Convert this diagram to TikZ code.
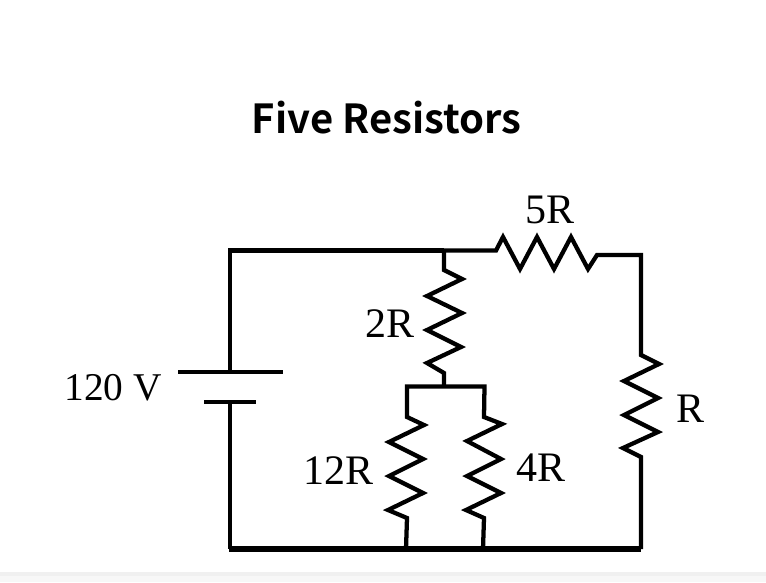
\documentclass[tikz,border=0pt]{standalone}
\usepackage{fontspec}
\setmainfont{Liberation Serif}
\newfontfamily\titlefont[BoldFont={Noto Sans CJK SC Bold}]{Noto Sans CJK SC}
\tikzset{
	wire/.style={line width=3.2pt, line join=miter, line cap=butt},
	lbl/.style={font=\fontsize{31.5}{33}\selectfont, inner sep=0pt}
}
\begin{document}
\begin{tikzpicture}[x=0.75pt, y=-0.75pt, line join=round, line cap=round]
	\useasboundingbox (0,0) rectangle (766,582);
	\fill[white] (0,0) rectangle (766,582);
	\fill[black!3] (0,572) rectangle (766,582);
	\fill[black!6] (0,572) rectangle (766,576);
	\node[inner sep=0pt, font=\titlefont\bfseries\fontsize{30}{32}\selectfont] (title) at (386.5,118) {Five Resistors};
	% corners and junctions
	\coordinate (TL) at (230,250.5);
	\coordinate (BL) at (230,549);
	\coordinate (BR) at (641,549);
	\coordinate (TR) at (641,255);
	\coordinate (J) at (444,250.5);
	\coordinate (M) at (444,386.5);
	\coordinate (P) at (407,386.5);
	\coordinate (Q) at (484.5,386.5);
	\coordinate (S) at (406,549);
	\coordinate (U) at (483,549);
	% battery
	\coordinate (Bt) at (230,372);
	\coordinate (Bb) at (230,402);
	\draw[wire] (178,372) -- (283,372);
	\draw[wire] (204,402) -- (256,402);
	\draw[wire] (Bt) -- (TL) -- (J);
	\draw[wire] (Bb) -- (BL);
	\draw[wire, line width=4pt] (228.5,549) -- (BR);
	% 5R
	\draw[wire] (J) -- (496,250.5) -- (503,237) -- (520,269) -- (537,237) -- (554,269) -- (571,237) -- (588,269) -- (597,255) -- (TR) -- (641,355)
		-- (659,364) -- (624,381) -- (658,398) -- (624,415) -- (658,432) -- (623,448) -- (641,457) -- (BR);
	% 2R
	\draw[wire] (J) -- (444,270) -- (462,279) -- (427,296) -- (462,313) -- (427,330) -- (461,347) -- (427,363) -- (444,373) -- (M);
	% 12R and 4R
	\draw[wire] (S) -- (407,518) -- (388,510) -- (423,493) -- (389,476) -- (423,459) -- (389,442) -- (424,425) -- (407,417) -- (P) -- (Q)
		-- (484,417) -- (502,424) -- (467,441) -- (501,459) -- (467,476) -- (501,493) -- (466,510) -- (484,518) -- (U);
	\node[lbl] (r5) at (549.5,210) {5R};
	\node[lbl] (r2) at (389.5,324) {2R};
	\node[lbl] (r12) at (339,471) {12R};
	\node[lbl] (r4) at (540.5,468) {4R};
	\node[lbl] (r1) at (690.5,409) {R};
	\node[lbl, font=\fontsize{29.5}{31}\selectfont] (volt) at (113,388) {120 V};
\end{tikzpicture}
\end{document}
